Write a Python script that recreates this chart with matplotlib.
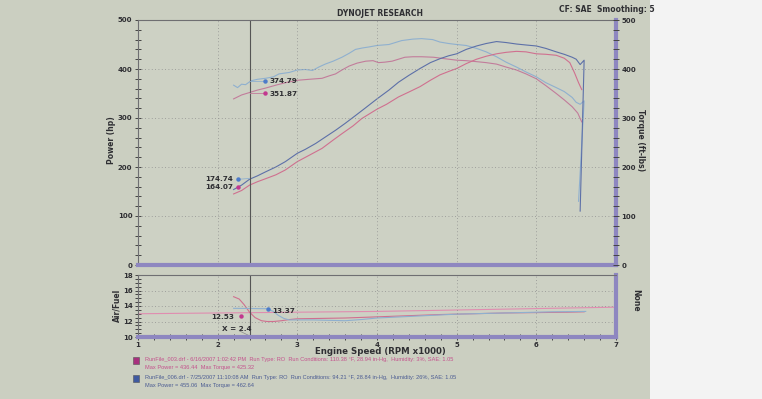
import matplotlib
matplotlib.use("Agg")
import matplotlib.pyplot as plt
from matplotlib.ticker import MultipleLocator
from matplotlib.patches import Rectangle

# ---------------- data ----------------
bp_rpm = [2.2, 2.3, 2.4, 2.5, 2.6, 2.73, 2.85, 3.0, 3.1, 3.23, 3.35, 3.48, 3.6, 3.73, 3.85,
          4.0, 4.15, 4.27, 4.4, 4.54, 4.67, 4.79, 4.9, 5.0, 5.12, 5.25, 5.37, 5.5, 5.62,
          5.75, 5.87, 6.0, 6.12, 6.25, 6.35, 6.45, 6.5, 6.55, 6.6, 6.55]
bp_hp = [154, 163, 175, 182, 190, 200, 211, 228, 236, 248, 261, 275, 289, 305, 320,
         339, 357, 373, 387, 401, 413, 421, 427, 431, 440, 447, 452, 456, 454,
         451, 449, 447, 442, 435, 430, 424, 420, 409, 418, 110]

bt_rpm = [2.2, 2.25, 2.3, 2.35, 2.42, 2.5, 2.6, 2.7, 2.77, 2.9, 3.0, 3.1, 3.19, 3.27, 3.35,
          3.45, 3.56, 3.65, 3.73, 3.82, 3.9, 4.0, 4.15, 4.31, 4.45, 4.56, 4.7, 4.79, 4.9,
          5.0, 5.12, 5.25, 5.37, 5.5, 5.62, 5.75, 5.87, 6.0, 6.12, 6.25, 6.35, 6.45, 6.5,
          6.55, 6.6, 6.53]
bt_tq = [367, 362, 369, 368, 376, 379, 381, 384, 390, 393, 398, 399, 397, 404, 410,
         416, 424, 432, 440, 443, 445, 448, 450, 458, 461, 462, 460, 455, 452,
         450, 448, 442, 435, 425, 414, 404, 394, 384, 372, 362, 354, 342, 332,
         328, 335, 130]

pp_rpm = [2.2, 2.3, 2.4, 2.5, 2.6, 2.73, 2.85, 3.0, 3.15, 3.31, 3.45, 3.56, 3.7, 3.81, 3.9,
          4.0, 4.12, 4.27, 4.4, 4.54, 4.67, 4.79, 4.9, 5.0, 5.12, 5.25, 5.37, 5.5, 5.62,
          5.75, 5.87, 6.0, 6.12, 6.25, 6.35, 6.42, 6.48, 6.53, 6.57]
pp_hp = [145, 152, 163, 170, 176, 184, 194, 211, 224, 238, 255, 268, 284, 299, 308,
         318, 328, 343, 353, 364, 377, 388, 395, 401, 411, 420, 426, 431, 434,
         436, 435, 431, 430, 428, 422, 413, 392, 372, 358]

pt_rpm = [2.2, 2.3, 2.4, 2.5, 2.6, 2.73, 2.85, 3.0, 3.15, 3.31, 3.4, 3.48, 3.56, 3.65, 3.75,
          3.86, 3.95, 4.02, 4.1, 4.19, 4.27, 4.35, 4.45, 4.56, 4.71, 4.85, 5.0, 5.12, 5.25,
          5.37, 5.5, 5.62, 5.75, 5.87, 6.0, 6.12, 6.25, 6.35, 6.45, 6.52, 6.57]
pt_tq = [339, 347, 352, 357, 361, 367, 372, 377, 379, 381, 386, 390, 398, 406, 412,
         416, 417, 413, 414, 416, 420, 424, 425, 425, 424, 421, 418, 417, 415,
         413, 410, 404, 398, 390, 380, 366, 350, 337, 323, 310, 292]

afref_rpm = [1.0, 4.0, 7.0]
afref_val = [13.0, 13.3, 13.85]

baf_rpm = [2.2, 2.4, 2.62, 2.7, 2.76, 2.83, 2.9, 3.0, 3.2, 3.4, 3.6, 3.8, 4.0, 4.3, 4.6,
           5.0, 5.4, 5.8, 6.2, 6.62]
baf_val = [13.7, 13.68, 13.65, 13.3, 12.8, 12.4, 12.2, 12.2, 12.2, 12.15, 12.1, 12.25, 12.45,
           12.6, 12.75, 12.95, 13.05, 13.15, 13.25, 13.3]

paf_rpm = [2.2, 2.27, 2.33, 2.4, 2.47, 2.55, 2.62, 2.7, 2.8, 2.9, 3.0, 3.3, 3.6, 4.0, 4.4,
           4.8, 5.2, 5.6, 6.0, 6.4, 6.6]
paf_val = [15.2, 14.9, 14.2, 13.2, 12.5, 12.1, 12.0, 12.0, 12.1, 12.25, 12.35, 12.4, 12.45,
           12.6, 12.75, 12.9, 13.0, 13.1, 13.15, 13.2, 13.25]

cursor_x = 2.4
power_marks = {"blue": 174.74, "pink": 164.07}
torque_marks = {"blue": 374.79, "pink": 351.87}
af_marks = {"blue": 13.37, "pink": 12.53}

legend_pink = ["RunFile_003.drf - 6/16/2007 1:02:42 PM  Run Type: RO  Run Conditions: 110.38 \u00b0F, 28.94 in-Hg,  Humidity: 3%, SAE: 1.05",
               "Max Power = 436.44  Max Torque = 425.32"]
legend_blue = ["RunFile_006.drf - 7/25/2007 11:10:08 AM  Run Type: RO  Run Conditions: 94.21 \u00b0F, 28.84 in-Hg,  Humidity: 26%, SAE: 1.05",
               "Max Power = 455.06  Max Torque = 462.64"]

# ---------------- style ----------------
W, H = 762, 399
PAPER = "#cbcfc1"
AXBG = "#cdd1c4"
FRAME = "#6f6f72"
SHADOW = "#8e87c0"
GRID = "#8f8f8f"
TXT = "#2f2f33"
C_BP = "#5d70a8"
C_BT = "#8fb0cf"
C_PP = "#d0708f"
C_PT = "#c27c9b"
C_REF = "#e08db0"
DOT_B = "#4d7bc9"
DOT_P = "#c2388f"
TICKFS = 5.0


def fx(x):
    return x / W


def fy(y):
    return 1 - y / H


fig = plt.figure(figsize=(W / 100, H / 100), dpi=100, facecolor=PAPER)
fig.patches.append(Rectangle((fx(650), 0), 1 - fx(650), 1, transform=fig.transFigure,
                             facecolor="#f3f3f3", edgecolor="none", zorder=0))

L, R = 138, 616
ax = fig.add_axes([fx(L), fy(265), fx(R) - fx(L), fy(20) - fy(265)], facecolor=AXBG)
axb = fig.add_axes([fx(L), fy(337), fx(R) - fx(L), fy(275) - fy(337)], facecolor=AXBG)


def style_frame(a):
    for s in ("top", "left"):
        a.spines[s].set_color(FRAME)
        a.spines[s].set_linewidth(0.8)
    for s in ("bottom", "right"):
        a.spines[s].set_color(SHADOW)
        a.spines[s].set_linewidth(3.0)


def bold_ticks(labels):
    for t in labels:
        t.set_fontweight("bold")


# ---- main panel ----
ax.set_xlim(1, 7)
ax.set_ylim(0, 500)
style_frame(ax)
ax.plot(bt_rpm, bt_tq, color=C_BT, lw=0.8)
ax.plot(pt_rpm, pt_tq, color=C_PT, lw=0.8)
ax.plot(bp_rpm, bp_hp, color=C_BP, lw=0.8)
ax.plot(pp_rpm, pp_hp, color=C_PP, lw=0.8)
ax.axvline(cursor_x, color="#555555", lw=0.8)
for v in (2, 3, 4, 5, 6):
    ax.axvline(v, color=GRID, lw=0.6, ls=(0, (1, 3)))
for v in (100, 200, 300, 400):
    ax.axhline(v, color=GRID, lw=0.6, ls=(0, (1, 3)))
ax.set_xticks([])
ax.set_yticks([0, 100, 200, 300, 400, 500])
ax.yaxis.set_minor_locator(MultipleLocator(20))
ax.tick_params(axis="y", which="both", direction="inout", length=4, width=0.7,
               color="#444", labelsize=TICKFS, labelcolor=TXT, pad=2)
bold_ticks(ax.get_yticklabels())

ax2 = ax.twinx()
ax2.set_ylim(0, 500)
for s in ax2.spines.values():
    s.set_visible(False)
ax2.set_yticks([0, 100, 200, 300, 400, 500])
ax2.yaxis.set_minor_locator(MultipleLocator(20))
ax2.tick_params(axis="y", which="both", direction="inout", length=4, width=0.7,
                color="#444", labelsize=TICKFS, labelcolor=TXT, pad=2)
bold_ticks(ax2.get_yticklabels())

# cursor markers
mx_t, mx_p = 2.59, 2.25
ax.plot([cursor_x, mx_t], [torque_marks["blue"], torque_marks["blue"]], color=C_BT, lw=0.6)
ax.plot([cursor_x, mx_t], [torque_marks["pink"], torque_marks["pink"]], color=C_PT, lw=0.6)
ax.plot([mx_p, cursor_x], [power_marks["blue"], power_marks["blue"] + 2], color=C_BT, lw=0.6)
ax.plot(mx_t, torque_marks["blue"], "o", ms=3.2, color=DOT_B, mec="none")
ax.plot(mx_t, torque_marks["pink"], "o", ms=3.2, color=DOT_P, mec="none")
yb_p, yp_p = 175, 159
ax.plot(mx_p, yb_p, "o", ms=3.2, color=DOT_B, mec="none")
ax.plot(mx_p, yp_p, "o", ms=3.2, color=DOT_P, mec="none")
kw = dict(fontsize=5.2, fontweight="bold", color=TXT, va="center")
ax.text(mx_t + 0.06, torque_marks["blue"], f"{torque_marks['blue']:.2f}", ha="left", **kw)
ax.text(mx_t + 0.06, torque_marks["pink"] - 3, f"{torque_marks['pink']:.2f}", ha="left", **kw)
ax.text(mx_p - 0.06, yb_p, f"{power_marks['blue']:.2f}", ha="right", **kw)
ax.text(mx_p - 0.06, yp_p, f"{power_marks['pink']:.2f}", ha="right", **kw)

# ---- bottom panel ----
axb.set_xlim(1, 7)
axb.set_ylim(10, 18)
style_frame(axb)
axb.plot(afref_rpm, afref_val, color=C_REF, lw=0.8)
axb.plot(paf_rpm, paf_val, color=C_PP, lw=0.8)
axb.plot(baf_rpm, baf_val, color=C_BT, lw=0.8)
axb.axvline(cursor_x, color="#555555", lw=0.8)
for v in (2, 3, 4, 5, 6):
    axb.axvline(v, color=GRID, lw=0.6, ls=(0, (1, 3)))
for v in (12, 14, 16):
    axb.axhline(v, color=GRID, lw=0.6, ls=(0, (1, 3)))
axb.set_yticks([10, 12, 14, 16, 18])
axb.yaxis.set_minor_locator(MultipleLocator(0.5))
axb.set_xticks([1, 2, 3, 4, 5, 6, 7])
axb.xaxis.set_minor_locator(MultipleLocator(0.2))
axb.tick_params(axis="both", which="both", direction="inout", length=4, width=0.7,
                color="#444", labelsize=TICKFS, labelcolor=TXT, pad=1.5)
bold_ticks(axb.get_yticklabels() + axb.get_xticklabels())

ax_af_b, ax_af_p = 2.63, 2.29
axb.plot(ax_af_b, 13.55, "o", ms=3.2, color=DOT_B, mec="none")
axb.plot(ax_af_p, 12.65, "o", ms=3.2, color=DOT_P, mec="none")
axb.text(ax_af_b + 0.06, 13.4, f"{af_marks['blue']:.2f}", ha="left", **kw)
axb.text(ax_af_p - 0.08, 12.6, f"{af_marks['pink']:.2f}", ha="right", **kw)
axb.text(2.05, 11.0, f"X = {cursor_x}", ha="left", **kw)
axb.plot([2.27, cursor_x], [10.8, 10.15], color="#8a8a8a", lw=0.5)

# ---- texts ----
fig.text(fx(380), fy(13), "DYNOJET RESEARCH", ha="center", va="center",
         fontsize=5.5, fontweight="bold", color=TXT)
fig.text(fx(655), fy(10), "CF: SAE  Smoothing: 5", ha="right", va="center",
         fontsize=5.5, fontweight="bold", color=TXT)
fig.text(fx(111), fy(140), "Power (hp)", rotation=90, ha="center", va="center",
         fontsize=5.5, fontweight="bold", color=TXT)
fig.text(fx(641), fy(140), "Torque (ft-lbs)", rotation=270, ha="center", va="center",
         fontsize=5.5, fontweight="bold", color=TXT)
fig.text(fx(117), fy(305), "Air/Fuel", rotation=90, ha="center", va="center",
         fontsize=5.5, fontweight="bold", color=TXT)
fig.text(fx(636), fy(300), "None", rotation=270, ha="center", va="center",
         fontsize=5.5, fontweight="bold", color=TXT)
fig.text(fx(380), fy(352), "Engine Speed (RPM x1000)", ha="center", va="center",
         fontsize=6.2, fontweight="bold", color=TXT)

# legend
for (lines, col, sq, y0) in ((legend_pink, "#c4508c", "#a8307e", 359),
                             (legend_blue, "#4b5b92", "#3f5aa0", 377)):
    fig.patches.append(Rectangle((fx(133), fy(y0 + 5)), fx(6), fy(0) - fy(7),
                                 transform=fig.transFigure, facecolor=sq,
                                 edgecolor="#555", lw=0.4))
    fig.text(fx(145), fy(y0), lines[0], ha="left", va="center", fontsize=4.1,
             color=col, family="Liberation Sans")
    fig.text(fx(145), fy(y0 + 8), lines[1], ha="left", va="center", fontsize=4.1,
             color=col, family="Liberation Sans")

fig.savefig("out.png", dpi=100, facecolor=PAPER)
